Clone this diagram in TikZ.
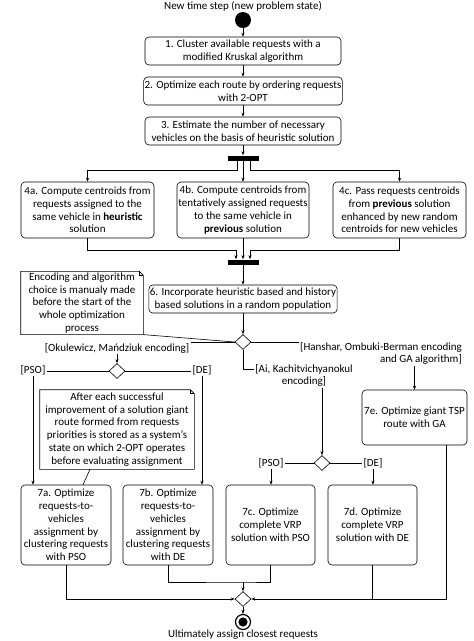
\documentclass[tikz,border=0pt]{standalone}
\usepackage{fontspec}
\setmainfont{Carlito}
\usetikzlibrary{shapes.geometric,arrows.meta}

\begin{document}
\begin{tikzpicture}[x=1pt,y=-1pt,line width=0.6pt,
    every node/.style={font=\fontsize{11}{12.8}\selectfont},
    act/.style={draw,rounded corners=4pt,align=center,inner sep=1pt},
    bar/.style={fill=black,minimum width=31pt,minimum height=5pt,inner sep=0pt},
    choice/.style={draw,diamond,fill=white,minimum width=16pt,minimum height=15pt,inner sep=0pt},
    guard/.style={inner sep=1pt},
    notetext/.style={align=center,inner sep=1pt},
    arr/.style={-{Stealth[length=4pt,width=3.2pt]}}]
\useasboundingbox (0,0) rectangle (474,641);

% start and sequential steps
\node (top) at (243,6.5) {New time step (new problem state)};
\node[circle,fill=black,minimum size=16pt,inner sep=0pt] (start) at (243,20) {};
\node[act,minimum width=196pt,minimum height=28pt] (s1) at (243,51) {1. Cluster available requests with a\\modified Kruskal algorithm};
\node[act,minimum width=196pt,minimum height=28pt] (s2) at (243,91) {2. Optimize each route by ordering requests\\with 2-OPT};
\node[act,minimum width=196pt,minimum height=28pt] (s3) at (243,131) {3. Estimate the number of necessary\\vehicles on the basis of heuristic solution};
\node[bar] (fork) at (243,158) {};

% parallel centroid steps
\node[act,minimum width=133pt,minimum height=56pt] (s4a) at (87.5,210) {4a. Compute centroids from\\requests assigned to the\\same vehicle in \textbf{heuristic}\\solution};
\node[act,minimum width=132pt,minimum height=56pt] (s4b) at (243,210) {4b. Compute centroids from\\tentatively assigned requests\\to the same vehicle in\\\textbf{previous} solution};
\node[act,minimum width=133pt,minimum height=56pt] (s4c) at (399.5,210) {4c. Pass requests centroids\\from \textbf{previous} solution\\enhanced by new random\\centroids for new vehicles};
\node[bar] (join) at (243,262) {};
\node[act,minimum width=188pt,minimum height=28pt] (s6) at (243,299) {6. Incorporate heuristic based and history\\based solutions in a random population};

% choice of encoding
\node[notetext,minimum width=122pt,minimum height=58pt] (n1) at (82,303) {Encoding and algorithm\\choice is manualy made\\before the start of the\\whole optimization\\process};
\node[choice] (d1) at (243,342) {};
\node[guard] (lok) at (117,348) {[Okulewicz, Mańdziuk encoding]};
\node[guard,align=right] (lhan) at (381,353.5) {[Hanshar, Ombuki-Berman encoding\\and GA algorithm]};
\node[guard,align=center] (lai) at (304,375.5) {[Ai, Kachitvichyanokul\\encoding]};
\node[choice] (d2) at (117,371) {};
\node[guard] (lpso) at (33,370) {[PSO]};
\node[guard] (lde) at (202,370) {[DE]};
\node[choice] (d3) at (322,463) {};
\node[guard] (l3pso) at (271,463) {[PSO]};
\node[guard] (l3de) at (373,463) {[DE]};
\node[notetext,minimum width=154pt,minimum height=79pt] (n2) at (117,429.5) {After each successful\\improvement of a solution giant\\route formed from requests\\priorities is stored as a system's\\state on which 2-OPT operates\\before evaluating assignment};

% optimization steps
\node[act,minimum width=105pt,minimum height=55pt] (s7e) at (414.5,417.5) {7e. Optimize giant TSP\\route with GA};
\node[act,minimum width=90pt,minimum height=80pt] (s7a) at (66,525) {7a. Optimize\\requests-to-\\vehicles\\assignment by\\clustering requests\\with PSO};
\node[act,minimum width=90pt,minimum height=80pt] (s7b) at (168,525) {7b. Optimize\\requests-to-\\vehicles\\assignment by\\clustering requests\\with DE};
\node[act,minimum width=89pt,minimum height=80pt] (s7c) at (270.5,525) {7c. Optimize\\complete VRP\\solution with PSO};
\node[act,minimum width=89pt,minimum height=80pt] (s7d) at (372.5,525) {7d. Optimize\\complete VRP\\solution with DE};

% merge and end
\node[choice] (dm) at (243,599) {};
\coordinate (jbc) at (243,582);
\node[circle,draw,line width=1.2pt,minimum size=15pt,inner sep=0pt,
      path picture={\fill (path picture bounding box.center) circle (4.6pt);}] (end) at (243,622) {};
\node (bottom) at (243,634.5) {Ultimately assign closest requests};

% note outlines
\foreach \n in {n1,n2}{
\draw (\n.north west) -- ([xshift=-4pt]\n.north east) -- ([yshift=-4pt]\n.north east) -- (\n.south east) -- (\n.south west) -- cycle;
\draw ([xshift=-4pt]\n.north east) -- ([xshift=-4pt,yshift=-4pt]\n.north east) -- ([yshift=-4pt]\n.north east);}

% connectors
\draw[arr] (start) -- (s1);
\draw[arr] (s1) -- (s2);
\draw[arr] (s2) -- (s3);
\draw[arr] (s3) -- (fork);
\draw[arr] ([xshift=-6pt]fork.south) -- ++(0,9) -| (s4a);
\draw[arr] (fork) -- (s4b);
\draw[arr] ([xshift=7pt]fork.south) -- ++(0,9) -| (s4c);
\draw[arr] (s4a.south) -- ++(0,12) -| ([xshift=-7pt]join.north);
\draw[arr] (s4b) -- (join);
\draw[arr] (s4c.south) -- ++(0,12) -| ([xshift=7pt]join.north);
\draw[arr] (join) -- (s6);
\draw[arr] (s6) -- (d1);
\draw (n1.south east) -- (d1.west);
\draw (d1.west) -- (d1.west -| lok.east);
\draw (d1.east) -- (d1.east -| lhan.west);
\draw (d1.south) |- ([yshift=6pt]lai.west);
\draw[arr] (lok) -- (d2);
\draw (d2.west) -- (d2.west -| lpso.east);
\draw (d2.east) -- (d2.east -| lde.west);
\draw[arr] (lpso.south) -- (lpso.south |- s7a.north);
\draw[arr] (lde.south) -- (lde.south |- s7b.north);
\draw[arr] (lhan.south -| s7e.north) -- (s7e.north);
\draw[arr] (lai.south -| d3.north) -- (d3.north);
\draw (d3.west) -- (d3.west -| l3pso.east);
\draw (d3.east) -- (d3.east -| l3de.west);
\draw[arr] (l3pso.south) -- (l3pso.south |- s7c.north);
\draw[arr] (l3de.south) -- (l3de.south |- s7d.north);
\draw ([xshift=-27pt]n2.south) -- ([xshift=17pt]s7a.north);
\draw[arr] (s7a.south) |- (dm.west);
\draw (s7b.south) |- (jbc) -| (s7c.south);
\draw[arr] (jbc) -- (dm);
\draw (s7d.south) -- (s7d.south |- dm.east);
\draw[arr] ([xshift=31.5pt]s7e.south) |- (dm.east);
\draw[arr] (dm) -- (end);
\end{tikzpicture}
\end{document}
